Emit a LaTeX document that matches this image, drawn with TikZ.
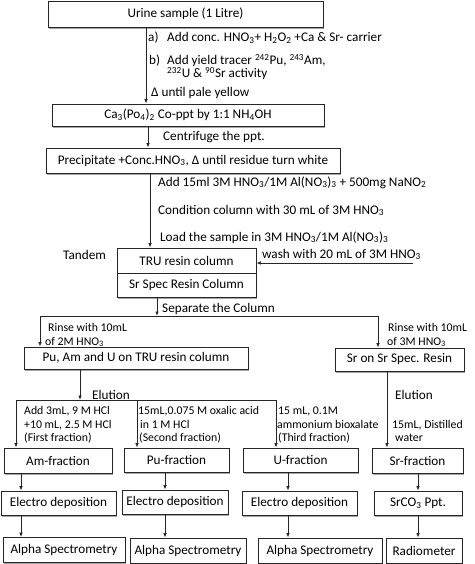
\documentclass[tikz,border=0pt]{standalone}
\usepackage{fontspec}
\setmainfont{Carlito}
\usetikzlibrary{arrows.meta,shadows}
\newcommand\sbs[1]{\textsubscript{#1}}
\newcommand\sps[1]{\textsuperscript{#1}}
\begin{document}
\begin{tikzpicture}[x=1pt,y=-1pt,
  box/.style={draw=black!85, line width=0.9pt, fill=white, inner sep=0pt,
    font=\fontsize{13.2}{15}\selectfont,
    drop shadow={shadow xshift=0.5pt, shadow yshift=-1.6pt, fill=black!35, opacity=1}},
  lbl/.style={anchor=base west, inner sep=0pt, font=\fontsize{13.2}{15}\selectfont},
  sl/.style={anchor=base west, inner sep=0pt, font=\fontsize{11.8}{13}\selectfont},
  arr/.style={-{Latex[length=4.5pt,width=3.6pt]}, line width=0.8pt, draw=black!85},
  ln/.style={line width=0.8pt, draw=black!85}]
\useasboundingbox (0,0) rectangle (474,564);
\fill[white] (0,0) rectangle (474,564);

% main column boxes
\node[box, minimum width=275pt, minimum height=26pt] (urine) at (185.5,14) {Urine sample (1 Litre)};
\node[box, minimum width=272pt, minimum height=22pt] (capo) at (188,115) {Ca\sbs{3}(Po\sbs{4})\sbs{2} Co-ppt by 1:1 NH\sbs{4}OH};
\node[box, minimum width=294pt, minimum height=25pt] (precip) at (193,160.5) {Precipitate +Conc.HNO\sbs{3}, Δ until residue turn white};
\node[box, minimum width=139pt, minimum height=25pt] (tru) at (186.5,260.5) {TRU resin column};
\node[box, minimum width=139pt, minimum height=24pt] (srspec) at (186.5,285) {Sr Spec Resin Column};
\node[box, minimum width=224pt, minimum height=22pt] (puam) at (136,358) {Pu, Am and U on TRU resin column};
\node[box, minimum width=129pt, minimum height=23pt] (sronsr) at (399.5,359.5) {Sr on Sr Spec. Resin};

% fractions
\node[box, minimum width=108pt, minimum height=25pt] (amf) at (58,460.5) {Am-fraction};
\node[box, minimum width=105pt, minimum height=24pt] (puf) at (176.5,460) {Pu-fraction};
\node[box, minimum width=115pt, minimum height=24pt] (uf) at (300.5,460) {U-fraction};
\node[box, minimum width=91pt, minimum height=25pt] (srf) at (417.5,460.5) {Sr-fraction};

\node[box, minimum width=115pt, minimum height=24pt] (ame) at (58.5,503) {Electro deposition};
\node[box, minimum width=106pt, minimum height=24pt] (pue) at (175,502) {Electro deposition};
\node[box, minimum width=115pt, minimum height=24pt] (ue) at (299.5,503) {Electro deposition};
\node[box, minimum width=88pt, minimum height=24pt] (srco) at (418,503) {SrCO\sbs{3} Ppt.};

\node[box, minimum width=122pt, minimum height=25pt] (ama) at (64,550) {Alpha Spectrometry};
\node[box, minimum width=116pt, minimum height=25pt] (pua) at (188,550.5) {Alpha Spectrometry};
\node[box, minimum width=124pt, minimum height=25pt] (ua) at (320,550.5) {Alpha Spectrometry};
\node[box, minimum width=76pt, minimum height=25pt] (rad) at (424,550.5) {Radiometer};

% coordinates for junctions
\coordinate (wash) at (413,263);
\coordinate (sep) at (157,316);
\coordinate (sepL) at (40,316);
\coordinate (sepR) at (378,316);
\coordinate (elu) at (80,400);
\coordinate (eluL) at (16,400);
\coordinate (eluM) at (137,400);
\coordinate (eluR) at (276,400);

% connectors
\draw[arr] (urine.south -| 146,0) -- (capo.north -| 146,0);
\draw[arr] (capo.south -| 148,0) -- (precip.north -| 148,0);
\draw[arr] (precip.south -| 150,0) -- (tru.north -| 150,0);
\draw[arr] (wash) -- (tru.east |- wash);
\draw[arr] (srspec.south -| sep) -- (sep);
\draw[ln] (sepL) -- (sepR);
\draw[arr] (sepL) -- (sepL |- puam.north);
\draw[arr] (sepR) -- (sepR |- sronsr.north);
\draw[arr] (puam.south -| elu) -- (elu);
\draw[ln] (eluL) -- (eluR);
\draw[arr] (eluL) -- (eluL |- amf.north);
\draw[arr] (eluM) -- (eluM |- puf.north);
\draw[arr] (eluR) -- (eluR |- uf.north);
\draw[arr] (sronsr.south -| 387,0) -- (srf.north -| 387,0);
\draw[arr] (amf.south -| 21,0) -- (ame.north -| 21,0);
\draw[arr] (puf.south -| 165,0) -- (pue.north -| 165,0);
\draw[arr] (uf.south -| 288,0) -- (ue.north -| 288,0);
\draw[arr] (srf.south -| 418,0) -- (srco.north -| 418,0);
\draw[arr] (ame.south -| 21,0) -- (ama.north -| 21,0);
\draw[arr] (pue.south -| 165,0) -- (pua.north -| 165,0);
\draw[arr] (ue.south -| 288,0) -- (ua.north -| 288,0);
\draw[arr] (srco.south -| 418,0) -- (rad.north -| 418,0);

% labels
\node[lbl] (ta) at (148,42) {\makebox[19pt][l]{a)}Add conc. HNO\sbs{3}+ H\sbs{2}O\sbs{2} +Ca \& Sr- carrier};
\node[lbl] (tb) at (149,65) {\makebox[18pt][l]{b)}Add yield tracer \sps{242}Pu, \sps{243}Am,};
\node[lbl] (tc) at (167,78) {\sps{232}U \& \sps{90}Sr activity};
\node[lbl] (td) at (151,97) {Δ until pale yellow};
\node[lbl] (te) at (163,141) {Centrifuge the ppt.};
\node[lbl] (tf) at (158,186) {Add 15ml 3M HNO\sbs{3}/1M Al(NO\sbs{3})\sbs{3} + 500mg NaNO\sbs{2}};
\node[lbl] (tg) at (158,214) {Condition column with 30 mL of 3M HNO\sbs{3}};
\node[lbl] (th) at (160,241) {Load the sample in 3M HNO\sbs{3}/1M Al(NO\sbs{3})\sbs{3}};
\node[lbl] (tandem) at (63,259) {Tandem};
\node[lbl] (twash) at (262,258) {wash with 20 mL of 3M HNO\sbs{3}};
\node[lbl] (tsep) at (162,312) {Separate the Column};
\node[sl] (r1) at (48,331) {Rinse with 10mL};
\node[sl] (r2) at (45,345) {of 2M HNO\sbs{3}};
\node[sl] (r3) at (388,331) {Rinse with 10mL};
\node[sl] (r4) at (387,345) {of 3M HNO\sbs{3}};
\node[lbl] (el1) at (92,399) {Elution};
\node[lbl] (el2) at (395,399) {Elution};
\node[sl] (a1) at (24,414) {Add 3mL, 9 M HCl};
\node[sl] (a2) at (24,428) {+10 mL, 2.5 M HCl};
\node[sl] (a3) at (24,441) {(First fraction)};
\node[sl] (p1) at (138,414) {15mL,0.075 M oxalic acid};
\node[sl] (p2) at (140,428) {in 1 M HCl};
\node[sl] (p3) at (139,441) {(Second fraction)};
\node[sl] (u1) at (278,414) {15 mL, 0.1M};
\node[sl] (u2) at (277,428) {ammonium bioxalate};
\node[sl] (u3) at (278,441) {(Third fraction)};
\node[sl] (s1) at (392,428) {15mL, Distilled};
\node[sl] (s2) at (395,441) {water};
\end{tikzpicture}
\end{document}
